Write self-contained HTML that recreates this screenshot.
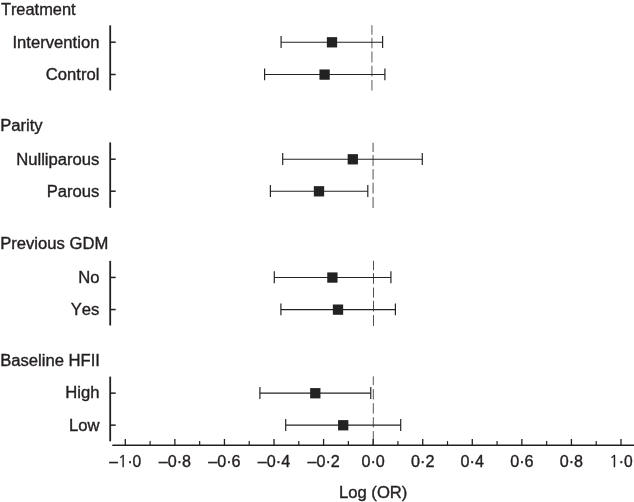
<!DOCTYPE html>
<html lang="en">
<head>
<meta charset="utf-8">
<title>Forest plot</title>
<style>
html,body{margin:0;padding:0;background:#fff;}
body{width:634px;height:502px;overflow:hidden;}
svg{display:block;}
text{font-family:"Liberation Sans", sans-serif;font-size:16px;fill:#231f20;stroke:#231f20;stroke-width:0.36px;font-kerning:none;}
</style>
</head>
<body>
<svg width="634" height="502" viewBox="0 0 634 502">
<rect x="0" y="0" width="634" height="502" fill="#ffffff"/>
<text transform="translate(0.9 14.6) scale(1.025 1)">Treatment</text>
<text transform="translate(0.15 131.2) scale(1.04 1)">Parity</text>
<text transform="translate(0.15 249.4) scale(1.04 1)">Previous GDM</text>
<text transform="translate(0.15 365.5) scale(1.04 1)">Baseline HFII</text>
<line x1="110.2" y1="25.3" x2="110.2" y2="90.4" stroke="#231f20" stroke-width="1.8"/>
<line x1="110.2" y1="142.4" x2="110.2" y2="207.8" stroke="#231f20" stroke-width="1.8"/>
<line x1="110.2" y1="260.9" x2="110.2" y2="325.5" stroke="#231f20" stroke-width="1.8"/>
<line x1="110.2" y1="376.6" x2="110.2" y2="441.3" stroke="#231f20" stroke-width="1.8"/>
<line x1="371.9" y1="25.3" x2="371.9" y2="90.5" stroke="#808080" stroke-width="1.3" stroke-dasharray="9.5 2.9 10.6 3.3 11 3.2 10.7 3.6 10.4"/>
<line x1="373.1" y1="142.8" x2="373.1" y2="207.9" stroke="#838383" stroke-width="1.4" stroke-dasharray="9.1 3.2 10.8 3.3 10.4 3.2 10.7 3.4 11"/>
<line x1="373.5" y1="260.8" x2="373.5" y2="325.9" stroke="#444" stroke-width="0.95" stroke-dasharray="9.4 2.9 10.8 3.6 10.1 3.2 10.7 3.6 10.8"/>
<line x1="373.3" y1="376.4" x2="373.3" y2="445.2" stroke="#555" stroke-width="1" stroke-dasharray="8.7 4 10.4 3.7 10.4 3.6 10.3 3.6 14.2"/>
<text transform="translate(99.4 47.7) scale(1.04 1)" text-anchor="end">Intervention</text>
<line x1="110.2" y1="42.2" x2="115.7" y2="42.2" stroke="#231f20" stroke-width="1.5"/>
<line x1="281.1" y1="42.2" x2="382.6" y2="42.2" stroke="#222" stroke-width="1.15"/>
<line x1="281.1" y1="36.1" x2="281.1" y2="48" stroke="#262626" stroke-width="1.2"/>
<line x1="382.6" y1="36.1" x2="382.6" y2="48" stroke="#262626" stroke-width="1.2"/>
<rect x="326.85" y="37.15" width="10.3" height="10.3" fill="#222"/>
<text transform="translate(99.4 79.8) scale(1.04 1)" text-anchor="end">Control</text>
<line x1="110.2" y1="74.5" x2="115.7" y2="74.5" stroke="#231f20" stroke-width="1.5"/>
<line x1="264.6" y1="74.5" x2="384.9" y2="74.5" stroke="#222" stroke-width="1.15"/>
<line x1="264.6" y1="68.4" x2="264.6" y2="80.3" stroke="#262626" stroke-width="1.2"/>
<line x1="384.9" y1="68.4" x2="384.9" y2="80.3" stroke="#262626" stroke-width="1.2"/>
<rect x="319.45" y="69.45" width="10.3" height="10.3" fill="#222"/>
<text transform="translate(99.4 164.85) scale(1.04 1)" text-anchor="end">Nulliparous</text>
<line x1="110.2" y1="159.2" x2="115.7" y2="159.2" stroke="#231f20" stroke-width="1.5"/>
<line x1="282.7" y1="159.2" x2="422.3" y2="159.2" stroke="#222" stroke-width="1.15"/>
<line x1="282.7" y1="153.1" x2="282.7" y2="165" stroke="#262626" stroke-width="1.2"/>
<line x1="422.3" y1="153.1" x2="422.3" y2="165" stroke="#262626" stroke-width="1.2"/>
<rect x="347.65" y="154.15" width="10.3" height="10.3" fill="#222"/>
<text transform="translate(99.4 197) scale(1.04 1)" text-anchor="end">Parous</text>
<line x1="110.2" y1="191.2" x2="115.7" y2="191.2" stroke="#231f20" stroke-width="1.5"/>
<line x1="270.4" y1="191.2" x2="367.8" y2="191.2" stroke="#222" stroke-width="1.15"/>
<line x1="270.4" y1="185.1" x2="270.4" y2="197" stroke="#262626" stroke-width="1.2"/>
<line x1="367.8" y1="185.1" x2="367.8" y2="197" stroke="#262626" stroke-width="1.2"/>
<rect x="313.85" y="186.15" width="10.3" height="10.3" fill="#222"/>
<text transform="translate(99.4 282.95) scale(1.04 1)" text-anchor="end">No</text>
<line x1="110.2" y1="277.45" x2="115.7" y2="277.45" stroke="#231f20" stroke-width="1.5"/>
<line x1="274.3" y1="277.45" x2="390.9" y2="277.45" stroke="#222" stroke-width="1.15"/>
<line x1="274.3" y1="271.35" x2="274.3" y2="283.25" stroke="#262626" stroke-width="1.2"/>
<line x1="390.9" y1="271.35" x2="390.9" y2="283.25" stroke="#262626" stroke-width="1.2"/>
<rect x="327.25" y="272.4" width="10.3" height="10.3" fill="#222"/>
<text transform="translate(99.4 314.95) scale(1.04 1)" text-anchor="end">Yes</text>
<line x1="110.2" y1="309.55" x2="115.7" y2="309.55" stroke="#231f20" stroke-width="1.5"/>
<line x1="280.9" y1="309.55" x2="395.4" y2="309.55" stroke="#222" stroke-width="1.15"/>
<line x1="280.9" y1="303.45" x2="280.9" y2="315.35" stroke="#262626" stroke-width="1.2"/>
<line x1="395.4" y1="303.45" x2="395.4" y2="315.35" stroke="#262626" stroke-width="1.2"/>
<rect x="332.85" y="304.5" width="10.3" height="10.3" fill="#222"/>
<text transform="translate(99.4 398.25) scale(1.04 1)" text-anchor="end">High</text>
<line x1="110.2" y1="393.15" x2="115.7" y2="393.15" stroke="#231f20" stroke-width="1.5"/>
<line x1="259.9" y1="393.15" x2="370.75" y2="393.15" stroke="#222" stroke-width="1.15"/>
<line x1="259.9" y1="387.05" x2="259.9" y2="398.95" stroke="#262626" stroke-width="1.2"/>
<line x1="370.75" y1="387.05" x2="370.75" y2="398.95" stroke="#262626" stroke-width="1.2"/>
<rect x="310.15" y="388.1" width="10.3" height="10.3" fill="#222"/>
<text transform="translate(99.4 430.65) scale(1.04 1)" text-anchor="end">Low</text>
<line x1="110.2" y1="425.15" x2="115.7" y2="425.15" stroke="#231f20" stroke-width="1.5"/>
<line x1="285.7" y1="425.15" x2="400.7" y2="425.15" stroke="#222" stroke-width="1.15"/>
<line x1="285.7" y1="419.05" x2="285.7" y2="430.95" stroke="#262626" stroke-width="1.2"/>
<line x1="400.7" y1="419.05" x2="400.7" y2="430.95" stroke="#262626" stroke-width="1.2"/>
<rect x="338.05" y="420.1" width="10.3" height="10.3" fill="#222"/>
<line x1="112.3" y1="445.25" x2="634" y2="445.25" stroke="#231f20" stroke-width="1.7"/>
<line x1="125.3" y1="438.95" x2="125.3" y2="445.25" stroke="#231f20" stroke-width="1.3"/>
<text transform="translate(125.3 467.4) scale(0.975 1)" text-anchor="middle">–<tspan style="font-family:NanumGothic,'Liberation Sans',sans-serif">1</tspan>·0</text>
<line x1="150.085" y1="441.1" x2="150.085" y2="445.25" stroke="#231f20" stroke-width="1.2"/>
<line x1="174.87" y1="438.95" x2="174.87" y2="445.25" stroke="#231f20" stroke-width="1.3"/>
<text transform="translate(174.87 467.4) scale(1.01 1)" text-anchor="middle">–0·8</text>
<line x1="199.655" y1="441.1" x2="199.655" y2="445.25" stroke="#231f20" stroke-width="1.2"/>
<line x1="224.44" y1="438.95" x2="224.44" y2="445.25" stroke="#231f20" stroke-width="1.3"/>
<text transform="translate(224.44 467.4) scale(1.01 1)" text-anchor="middle">–0·6</text>
<line x1="249.225" y1="441.1" x2="249.225" y2="445.25" stroke="#231f20" stroke-width="1.2"/>
<line x1="274.01" y1="438.95" x2="274.01" y2="445.25" stroke="#231f20" stroke-width="1.3"/>
<text transform="translate(274.01 467.4) scale(1.01 1)" text-anchor="middle">–0·4</text>
<line x1="298.795" y1="441.1" x2="298.795" y2="445.25" stroke="#231f20" stroke-width="1.2"/>
<line x1="323.58" y1="438.95" x2="323.58" y2="445.25" stroke="#231f20" stroke-width="1.3"/>
<text transform="translate(323.58 467.4) scale(1.01 1)" text-anchor="middle">–0·2</text>
<line x1="348.365" y1="441.1" x2="348.365" y2="445.25" stroke="#231f20" stroke-width="1.2"/>
<line x1="373.15" y1="438.95" x2="373.15" y2="445.25" stroke="#231f20" stroke-width="1.3"/>
<text transform="translate(373.15 467.4) scale(1.01 1)" text-anchor="middle">0·0</text>
<line x1="397.935" y1="441.1" x2="397.935" y2="445.25" stroke="#231f20" stroke-width="1.2"/>
<line x1="422.72" y1="438.95" x2="422.72" y2="445.25" stroke="#231f20" stroke-width="1.3"/>
<text transform="translate(422.72 467.4) scale(1.01 1)" text-anchor="middle">0·2</text>
<line x1="447.505" y1="441.1" x2="447.505" y2="445.25" stroke="#231f20" stroke-width="1.2"/>
<line x1="472.29" y1="438.95" x2="472.29" y2="445.25" stroke="#231f20" stroke-width="1.3"/>
<text transform="translate(472.29 467.4) scale(1.01 1)" text-anchor="middle">0·4</text>
<line x1="497.075" y1="441.1" x2="497.075" y2="445.25" stroke="#231f20" stroke-width="1.2"/>
<line x1="521.86" y1="438.95" x2="521.86" y2="445.25" stroke="#231f20" stroke-width="1.3"/>
<text transform="translate(521.86 467.4) scale(1.01 1)" text-anchor="middle">0·6</text>
<line x1="546.645" y1="441.1" x2="546.645" y2="445.25" stroke="#231f20" stroke-width="1.2"/>
<line x1="571.43" y1="438.95" x2="571.43" y2="445.25" stroke="#231f20" stroke-width="1.3"/>
<text transform="translate(571.43 467.4) scale(1.01 1)" text-anchor="middle">0·8</text>
<line x1="596.215" y1="441.1" x2="596.215" y2="445.25" stroke="#231f20" stroke-width="1.2"/>
<line x1="621" y1="438.95" x2="621" y2="445.25" stroke="#231f20" stroke-width="1.3"/>
<text transform="translate(621 467.4) scale(0.975 1)" text-anchor="middle"><tspan style="font-family:NanumGothic,'Liberation Sans',sans-serif">1</tspan>·0</text>
<text transform="translate(373.2 497.8) scale(1.04 1)" text-anchor="middle">Log (OR)</text>
</svg>
</body>
</html>
